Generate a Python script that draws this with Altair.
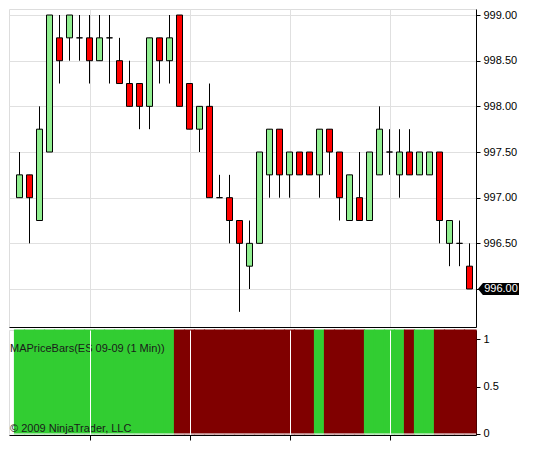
import altair as alt
import pandas as pd

# ---- data (ES 09-09, 1 min bars) ----
bar_index = list(range(46))
opens = [997.00, 997.25, 996.75, 997.50, 998.75, 998.75, 998.75, 998.75, 998.50, 998.75,
         998.50, 998.25, 998.25, 998.00, 998.75, 998.50, 999.00, 998.25, 997.75, 998.00,
         997.00, 997.00, 996.75, 996.25, 996.50, 997.25, 997.75, 997.25, 997.50, 997.50,
         997.25, 997.75, 997.50, 996.75, 997.00, 996.75, 997.25, 997.50, 997.25, 997.50,
         997.25, 997.25, 997.50, 996.50, 996.50, 996.25]
highs = [997.50, 997.25, 998.00, 999.00, 999.00, 999.00, 999.00, 999.00, 999.00, 999.00,
         998.75, 998.50, 998.25, 998.75, 998.75, 999.00, 999.00, 998.25, 998.00, 998.25,
         997.25, 997.25, 996.75, 996.75, 997.50, 997.75, 997.75, 997.50, 997.50, 997.50,
         997.75, 997.75, 997.50, 997.25, 997.50, 997.50, 998.00, 997.75, 997.75, 997.75,
         997.50, 997.50, 997.50, 996.75, 996.75, 996.50]
lows = [997.00, 996.50, 996.75, 997.50, 998.25, 998.50, 998.50, 998.25, 998.50, 998.25,
        998.25, 998.00, 997.75, 997.75, 998.25, 998.25, 998.00, 997.75, 997.50, 997.00,
        997.00, 996.50, 995.75, 996.00, 996.50, 997.00, 997.00, 997.00, 997.25, 997.25,
        997.00, 997.25, 996.75, 996.75, 996.75, 996.75, 997.25, 997.25, 997.00, 997.25,
        997.25, 997.25, 996.50, 996.25, 996.25, 996.00]
closes = [997.25, 997.00, 997.75, 999.00, 998.50, 999.00, 998.75, 998.50, 998.75, 998.75,
          998.25, 998.00, 998.00, 998.75, 998.50, 998.75, 998.00, 997.75, 998.00, 997.00,
          997.00, 996.75, 996.50, 996.50, 997.50, 997.75, 997.25, 997.50, 997.25, 997.25,
          997.75, 997.50, 997.00, 997.25, 996.75, 997.50, 997.75, 997.50, 997.50, 997.25,
          997.50, 997.50, 996.75, 996.75, 996.50, 996.00]
# MAPriceBars state per bar: 1 = up (green), 0 = down (dark red)
ma_state = [1, 1, 1, 1, 1, 1, 1, 1, 1, 1, 1, 1, 1, 1, 1, 1,
            0, 0, 0, 0, 0, 0, 0, 0, 0, 0, 0, 0, 0, 0,
            1, 0, 0, 0, 0, 1, 1, 1, 1, 0, 1, 1, 0, 0, 0, 0]
price_ticks = [996.0, 996.5, 997.0, 997.5, 998.0, 998.5, 999.0]
ind_ticks = [0, 0.5, 1]
grid_bars = [7, 17, 27, 37]

XMIN, XMAX = -1.05, 45.65
PMIN, PMAX = 995.584, 999.066
LMIN, LMAX = -0.011, 1.1

FONT = "Liberation Sans"
UP_CANDLE, DOWN_CANDLE, FLAT_CANDLE = "#90EE90", "#FF0000", "#000000"
UP_STATE, DOWN_STATE = "#32CD32", "#800000"

df = pd.DataFrame({"i": bar_index, "open": opens, "high": highs, "low": lows, "close": closes})
df["fillc"] = [UP_CANDLE if c > o else (DOWN_CANDLE if c < o else FLAT_CANDLE)
               for o, c in zip(opens, closes)]

xs = alt.Scale(domain=[XMIN, XMAX], nice=False, zero=False, padding=0)
ys = alt.Scale(domain=[PMIN, PMAX], nice=False, zero=False, padding=0)
ls = alt.Scale(domain=[LMIN, LMAX], nice=False, zero=False, padding=0)

x_axis_top = alt.Axis(values=grid_bars, grid=True, gridColor="#e0e0e0", ticks=False, labels=False,
                      domain=True, domainColor="black", title=None)
y_axis_top = alt.Axis(orient="right", values=price_ticks, format=".2f", grid=True, gridColor="#e0e0e0",
                      tickColor="black", tickSize=4, domainColor="black", labelFontSize=11,
                      labelColor="black", labelPadding=3, labelFont=FONT, title=None)

base = alt.Chart(df)
wicks = base.mark_rule(color="black", strokeWidth=1).encode(
    x=alt.X("i:Q", scale=xs, axis=x_axis_top),
    y=alt.Y("low:Q", scale=ys, axis=y_axis_top),
    y2="high:Q",
)
bodies = base.mark_bar(size=6, stroke="black", strokeWidth=1).encode(
    x=alt.X("i:Q", scale=xs),
    y=alt.Y("open:Q", scale=ys),
    y2="close:Q",
    fill=alt.Fill("fillc:N", scale=None),
)

last = pd.DataFrame({"p": [closes[-1]], "label": [f"{closes[-1]:.2f}"]})
tag_path = "M-1,0 L-0.76,-0.293 L1,-0.293 L1,0.293 L-0.76,0.293 Z"
tag = alt.Chart(last).mark_point(shape=tag_path, filled=True, fill="black", strokeWidth=0,
                                 size=1681, opacity=1).encode(
    x=alt.value(489.5), y=alt.Y("p:Q", scale=ys))
tag_text = alt.Chart(last).mark_text(color="white", fontSize=11, font=FONT, align="center",
                                     baseline="middle").encode(
    x=alt.value(492), y=alt.Y("p:Q", scale=ys), text="label:N")

top = alt.layer(wicks, bodies, tag, tag_text).properties(width=467, height=318)

low_df = pd.DataFrame({"i": bar_index, "s": ma_state})
low_df["x0"] = low_df["i"] - 0.5
low_df["x1"] = [i + 0.5 if i < len(bar_index) - 1 else XMAX for i in bar_index]
low_df["y0"] = 0.0
low_df["y1"] = LMAX
low_df["col"] = [UP_STATE if s == 1 else DOWN_STATE for s in ma_state]

x_axis_low = alt.Axis(values=grid_bars, grid=True, gridColor="white", gridWidth=1, ticks=True,
                      tickColor="black", tickSize=5, labels=False, domain=True, domainColor="black",
                      title=None, zindex=1)
y_axis_low = alt.Axis(orient="right", values=ind_ticks, format="~g", grid=False, tickColor="black",
                      tickSize=4, domainColor="black", labelFontSize=11, labelColor="black",
                      labelPadding=3, labelFont=FONT, title=None)

rects = alt.Chart(low_df).mark_rect(strokeWidth=1.2).encode(
    x=alt.X("x0:Q", scale=xs, axis=x_axis_low),
    x2="x1:Q",
    y=alt.Y("y0:Q", scale=ls, axis=y_axis_low),
    y2="y1:Q",
    fill=alt.Fill("col:N", scale=None),
    stroke=alt.Stroke("col:N", scale=None),
)
zero_line = alt.Chart(pd.DataFrame({"z": [0.0]})).mark_rule(color="#f0f0f0", strokeWidth=1).encode(
    y=alt.Y("z:Q", scale=ls))
label1 = alt.Chart(pd.DataFrame({"t": ["MAPriceBars(ES 09-09 (1 Min))"]})).mark_text(
    align="left", baseline="middle", fontSize=11, font=FONT, color="#1a1a1a").encode(
    x=alt.value(1), y=alt.value(19), text="t:N")
label2 = alt.Chart(pd.DataFrame({"t": ["© 2009 NinjaTrader, LLC"]})).mark_text(
    align="left", baseline="middle", fontSize=11, font=FONT, color="#1a1a1a").encode(
    x=alt.value(1), y=alt.value(99), text="t:N")

bottom = alt.layer(rects, zero_line, label1, label2).properties(width=467, height=105)

chart = (alt.vconcat(top, bottom, spacing=0)
         .properties(padding=0)
         .configure_view(stroke=None)
         .configure(font=FONT))

chart.save("out.html", embed_options={"renderer": "svg", "actions": False})
